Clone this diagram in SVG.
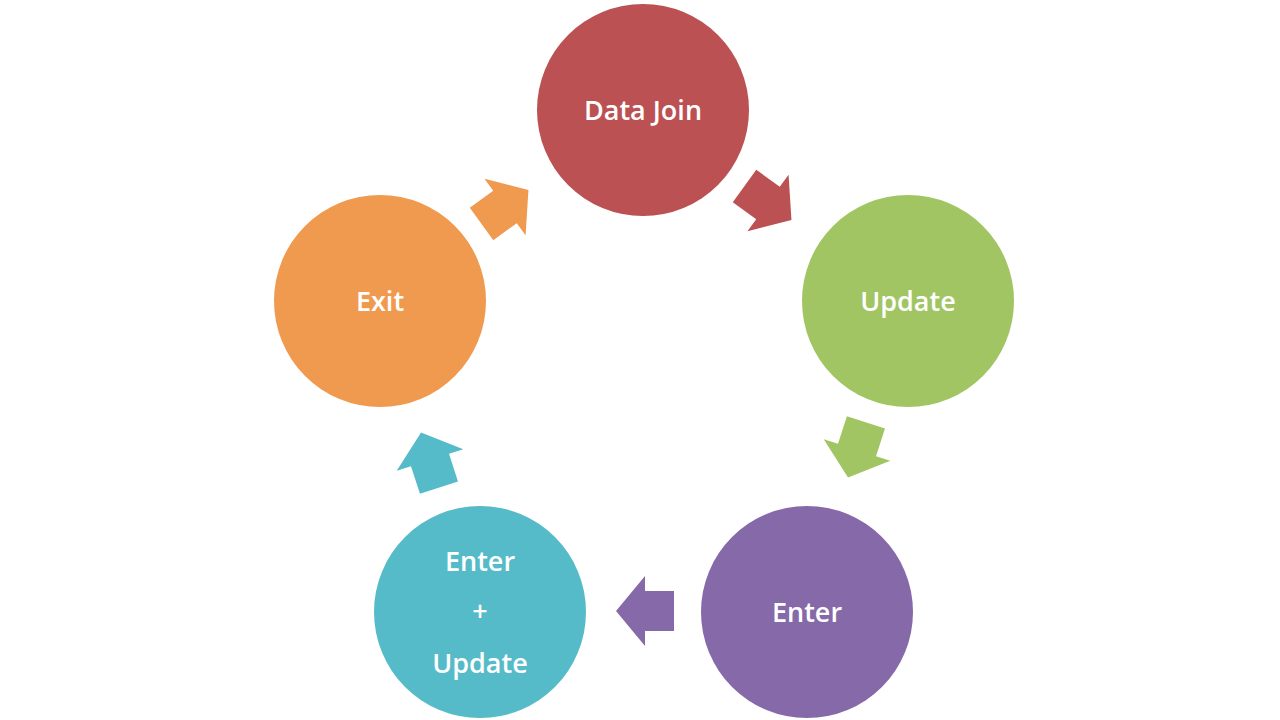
<svg xmlns="http://www.w3.org/2000/svg" width="1280" height="720" viewBox="0 0 1280 720">
<style>
text{font-family:"Open Sans","Liberation Sans",sans-serif;font-size:27px;fill:#fff;text-anchor:middle;font-weight:600}
</style>
<defs><path id="arr" d="M-29,-20 H0 V-35 L29,0 L0,35 V20 H-29 Z"/></defs>
<rect width="1280" height="720" fill="#fff"/>
<g id="connectors">
<use href="#arr" fill="#BB5152" transform="translate(768,203) rotate(36)"/>
<use href="#arr" fill="#A2C563" transform="translate(857,450) rotate(108)"/>
<use href="#arr" fill="#8669A8" transform="translate(645,611) rotate(180)"/>
<use href="#arr" fill="#56BBC8" transform="translate(430,460) rotate(252)"/>
<use href="#arr" fill="#F09A50" transform="translate(505,207) rotate(-36)"/>
</g>
<g id="datajoin"><circle cx="643" cy="110" r="106" fill="#BB5152"/><text x="643" y="120">Data Join</text></g>
<g id="update"><circle cx="908" cy="301" r="106" fill="#A2C563"/><text x="908" y="311">Update</text></g>
<g id="enter"><circle cx="807" cy="612" r="106" fill="#8669A8"/><text x="807" y="622">Enter</text></g>
<g id="enterupdate"><circle cx="480" cy="612" r="106" fill="#56BBC8"/><text x="480" y="571">Enter</text><text x="480" y="621">+</text><text x="480" y="673">Update</text></g>
<g id="exit"><circle cx="380" cy="301" r="106" fill="#F09A50"/><text x="380" y="311">Exit</text></g>
</svg>
